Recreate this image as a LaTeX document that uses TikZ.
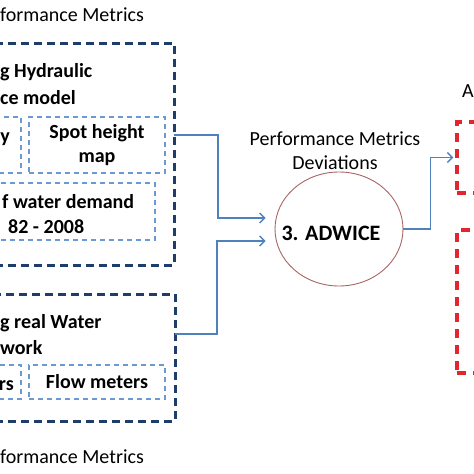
\documentclass[tikz,border=0pt]{standalone}
\usepackage{fontspec}
\setmainfont{Carlito}
\usetikzlibrary{arrows.meta,shapes.geometric}
\definecolor{navy}{HTML}{1F3D6B}
\definecolor{lightdash}{HTML}{6A9AD0}
\definecolor{flowblue}{HTML}{4F81BD}
\definecolor{rimred}{HTML}{A86464}
\definecolor{actred}{HTML}{E3262E}
\newcommand{\bigfont}{\fontsize{20}{24}\selectfont}
\tikzset{
  outerbox/.style={draw=navy,line width=3pt,dash pattern=on 8pt off 5pt,inner sep=0pt},
  innerbox/.style={draw=lightdash,line width=1.8pt,dash pattern=on 5pt off 4pt,inner sep=0pt,align=center,font=\bigfont\bfseries},
  actbox/.style={draw=actred,line width=3.5pt,dash pattern=on 9pt off 7pt,inner sep=0pt},
  flow/.style={draw=flowblue,line width=1.4pt,-{Straight Barb[length=5pt,width=10pt]}},
  txt/.style={inner sep=0pt,anchor=base west,font=\bigfont},
  bold/.style={txt,font=\bigfont\bfseries}
}
\begin{document}
\begin{tikzpicture}[x=1pt,y=-1pt,font=\bigfont]
  \useasboundingbox (0,0) rectangle (474,474);
  \clip (0,0) rectangle (474,474);

  \node[txt] (pmtop) at (0,21) {formance Metrics};

  % hydraulic model
  \node[outerbox,minimum width=244pt,minimum height=222pt] (hydro) at (52,154) {};
  \node[bold] (hydtitle) at (0,77) {g Hydraulic};
  \node[bold] (hydtitle2) at (0,104) {ce model};
  \node[innerbox,minimum width=121pt,minimum height=56pt] (topo) at (-39.5,145) {};
  \node[bold,anchor=base east] (topotxt) at (10,142) {y};
  \node[innerbox,minimum width=136pt,minimum height=56pt] (spot) at (97,145) {Spot height\\map};
  \node[innerbox,minimum width=235pt,minimum height=57pt] (demand) at (37.5,211.5) {};
  \node[bold] (demtxt) at (2,208) {f water demand};
  \node[bold] (demtxt2) at (8,233) {82 - 2008};

  % real network
  \node[outerbox,minimum width=245pt,minimum height=127pt] (network) at (52.5,357.5) {};
  \node[bold] (nettitle) at (0,328) {g real Water};
  \node[bold] (nettitle2) at (0,354) {work};
  \node[innerbox,minimum width=121pt,minimum height=34pt] (press) at (-39.5,382) {};
  \node[bold,anchor=base east] (presstxt) at (14,390) {rs};
  \node[innerbox,minimum width=136pt,minimum height=34pt] (flowm) at (97,382) {Flow meters};

  \node[txt] (pmbot) at (0,463) {formance Metrics};

  % comparison
  \node[draw=rimred,line width=0.9pt,ellipse,minimum width=128pt,minimum height=114pt,inner sep=0pt,
        label={[font=\fontsize{22}{26}\selectfont\bfseries,xshift=-8pt,yshift=-4pt]center:3. ADWICE}] (adwice) at (339,229) {};
  \node[align=center,inner sep=0pt] (dev) at (335,151) {Performance Metrics\\Deviations};

  % actions
  \node[txt] (acttxt) at (462,97) {A};
  \node[actbox,minimum width=103pt,minimum height=71pt] (act1) at (508.5,157.5) {};
  \node[actbox,minimum width=103pt,minimum height=143pt] (act2) at (508.5,301.5) {};

  \coordinate (hydout) at (174,135);
  \coordinate (netout) at (175,334);
  \draw[flow,shorten >=9pt] (hydout) -- ++(44,0) |- ([yshift=11pt]adwice.west);
  \draw[flow,shorten >=9pt] (netout) -- ++(42,0) |- ([yshift=-12pt]adwice.west);
  \draw[flow,shorten >=2pt] (adwice.east) -- ++(27,0) |- (act1.west);
\end{tikzpicture}
\end{document}
